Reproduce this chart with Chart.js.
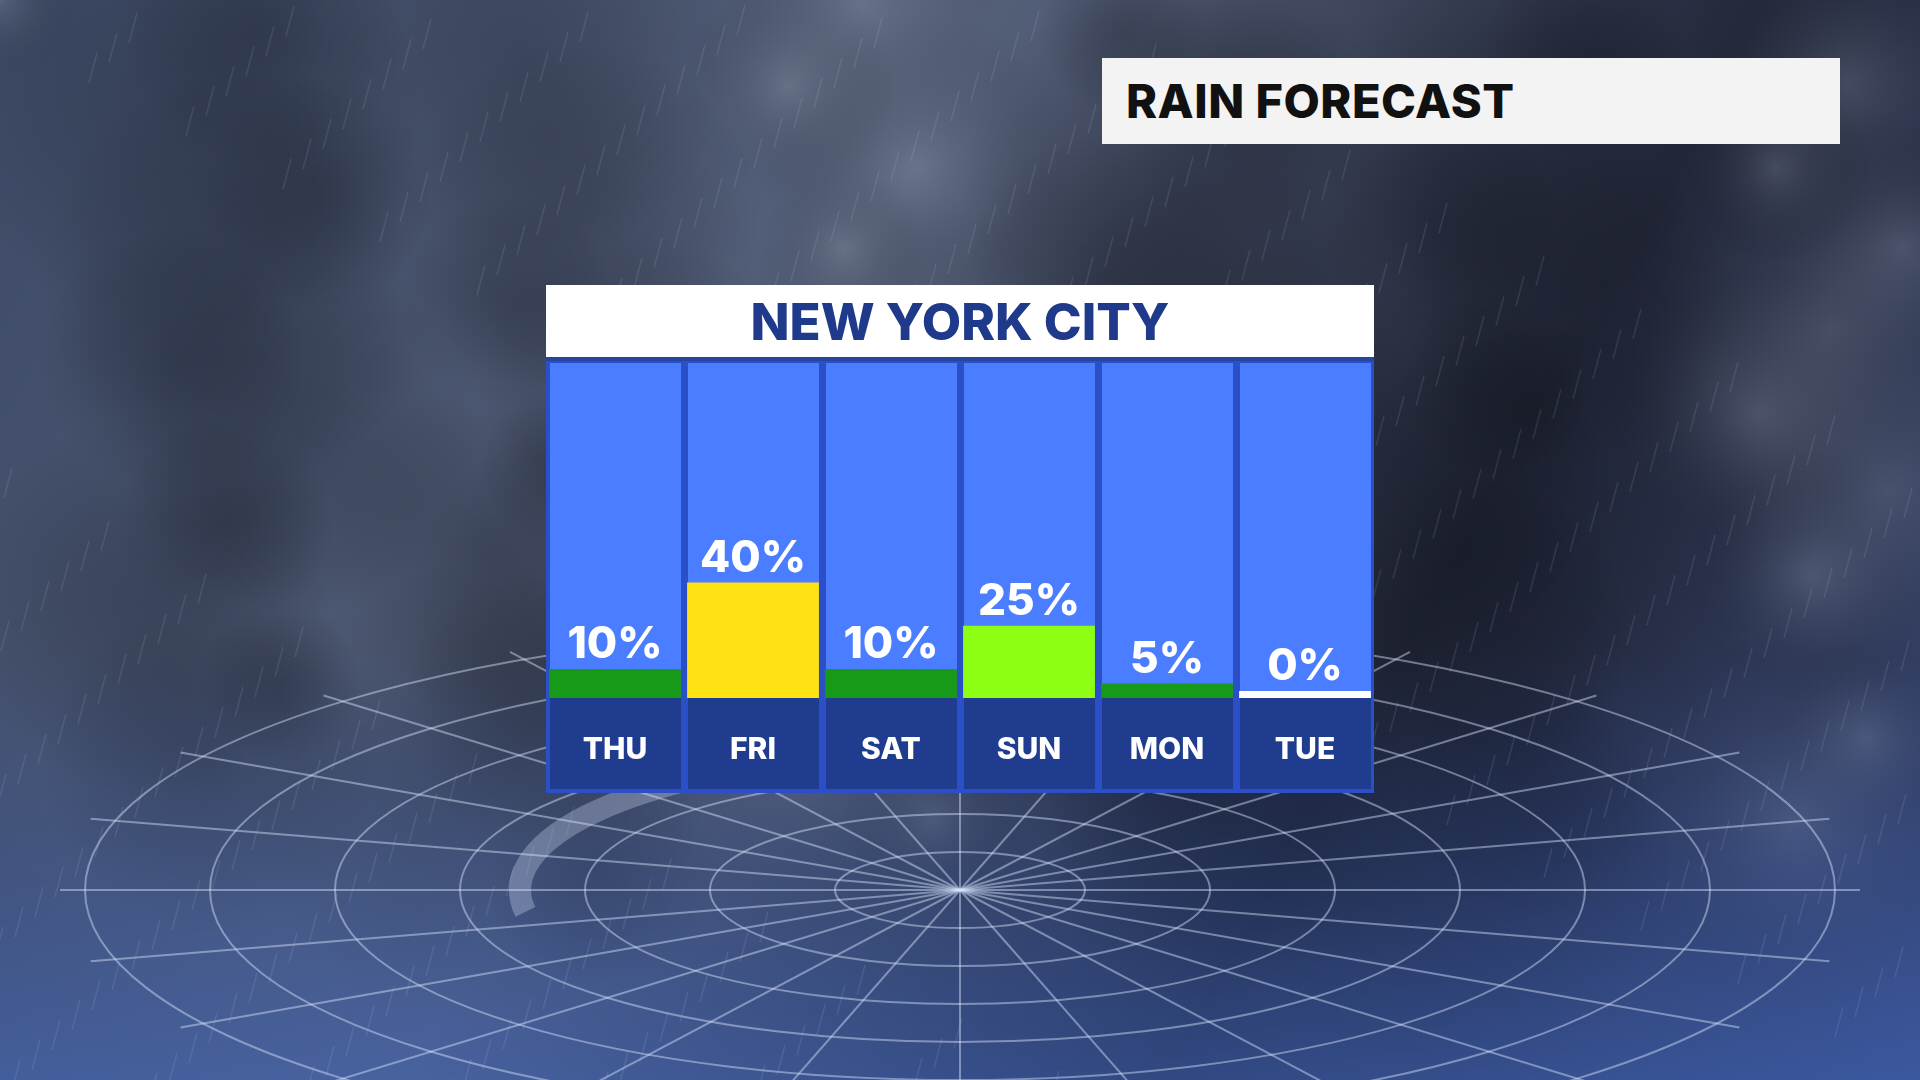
<!DOCTYPE html>
<html><head><meta charset="utf-8">
<script src="https://cdn.jsdelivr.net/npm/chart.js@4/dist/chart.umd.min.js"></script>
<style>
html,body{margin:0;padding:0;width:1920px;height:1080px;overflow:hidden;font-family:Inter,"Open Sans",sans-serif}
#bg{position:absolute;left:0;top:0}
#rf{position:absolute;left:1102px;top:58px;width:738px;height:86px;background:#f3f3f3;font-weight:800;font-size:47px;color:#111;line-height:86px;padding-left:24px;box-sizing:border-box;letter-spacing:0.5px}
#panel{position:absolute;left:546px;top:285px;width:828px;height:508px;background:#2a4fc7}
#ttl{height:72px;background:#fff;color:#1f3a8a;font-weight:800;font-size:51px;text-align:center;line-height:74px;border-bottom:4px solid #27449f}
#wrap{position:absolute;left:0;top:76px;width:828px;height:432px}
</style></head><body>
<canvas id="bg" width="1920" height="1080"></canvas>
<div id="rf">RAIN FORECAST</div>
<div id="panel"><div id="ttl">NEW YORK CITY</div><div id="wrap"><canvas id="c"></canvas></div></div>
<script>
const days=["THU","FRI","SAT","SUN","MON","TUE"];
const rainPct=[10,40,10,25,5,0];
const barColors=["#169a17","#ffe214","#169a17","#8cff12","#169a17","#ffffff"];

(function(){const c=document.getElementById('bg').getContext('2d');
let g=c.createLinearGradient(0,0,1920,1080);g.addColorStop(0,'#3d4a66');g.addColorStop(0.4,'#55607a');g.addColorStop(0.7,'#23283a');g.addColorStop(1,'#3b4a78');
c.fillStyle=g;c.fillRect(0,0,1920,1080);
for(let i=0;i<60;i++){const x=(i*317)%1920,y=(i*191)%900,r=80+(i*37)%160;
const rg=c.createRadialGradient(x,y,0,x,y,r);const a=(i%3==0)?'rgba(200,210,225,0.18)':'rgba(15,18,30,0.25)';
rg.addColorStop(0,a);rg.addColorStop(1,'rgba(0,0,0,0)');c.fillStyle=rg;c.fillRect(x-r,y-r,2*r,2*r);}
const bg=c.createLinearGradient(0,650,0,1080);bg.addColorStop(0,'rgba(40,70,150,0)');bg.addColorStop(1,'rgba(60,100,190,0.55)');c.fillStyle=bg;c.fillRect(0,650,1920,430);
c.strokeStyle='rgba(220,230,255,0.45)';c.lineWidth=2;
const cx=960,cy=890;
for(let k=1;k<=7;k++){c.beginPath();c.ellipse(cx,cy,k*125,k*38,0,0,Math.PI*2);c.stroke();}
for(let a=0;a<24;a++){const t=a*Math.PI/12;c.beginPath();c.moveTo(cx,cy);c.lineTo(cx+Math.cos(t)*900,cy+Math.sin(t)*275);c.stroke();}
c.strokeStyle='rgba(220,230,255,0.3)';c.lineWidth=22;c.beginPath();c.ellipse(cx,cy,440,140,0,Math.PI*0.95,Math.PI*1.4);c.stroke();
c.strokeStyle='rgba(200,210,240,0.12)';c.lineWidth=1.5;
for(let i=0;i<400;i++){const x=(i*97)%1920,y=(i*53)%1080;c.beginPath();c.moveTo(x,y);c.lineTo(x-8,y+30);c.stroke();}
})();

const colPlugin={id:'cols',beforeDatasetsDraw(ch){const c=ch.ctx,a=ch.chartArea,xs=ch.scales.x;
const w=xs.width/days.length;
days.forEach((d,i)=>{const x=xs.getPixelForValue(i);const l=x-w/2+4,r=x+w/2-3;
c.fillStyle='#4a7dff';c.fillRect(l,a.top,r-l,a.bottom-a.top);
c.fillStyle='#1f3c8e';c.fillRect(l,a.bottom,r-l,ch.height-a.bottom-4);
c.fillStyle='#fff';c.font='800 30px Inter';c.textAlign='center';c.textBaseline='middle';
c.fillText(d,x,a.bottom+(ch.height-a.bottom)/2+4);});},
afterDatasetsDraw(ch){const c=ch.ctx;const m=ch.getDatasetMeta(0);
m.data.forEach((b,i)=>{c.fillStyle='#fff';c.font='800 44px Inter';c.textAlign='center';c.textBaseline='bottom';
c.fillText(rainPct[i]+'%',b.x,b.y-2);});}};

new Chart(document.getElementById('c'),{type:'bar',
data:{labels:days,datasets:[{data:rainPct,backgroundColor:barColors,minBarLength:7,categoryPercentage:1,barPercentage:0.955,borderWidth:0}]},
options:{responsive:true,maintainAspectRatio:false,animation:false,
layout:{padding:{top:2,bottom:95,left:0,right:0}},
plugins:{legend:{display:false},tooltip:{enabled:false}},
scales:{x:{display:false},y:{display:false,min:0,max:116}}},
plugins:[colPlugin]});
</script></body></html>
